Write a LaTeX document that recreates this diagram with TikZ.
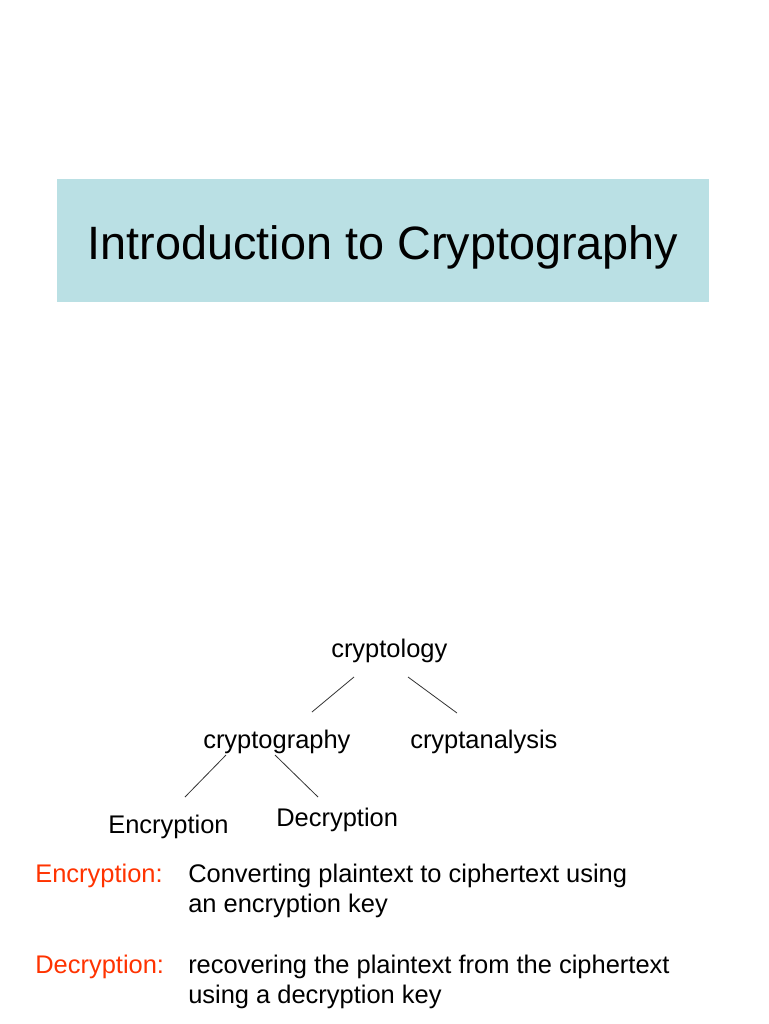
\documentclass[tikz,border=0pt]{standalone}
\usepackage{fontspec}
\setmainfont{Liberation Sans}
\definecolor{titlebg}{HTML}{BAE0E4}
\definecolor{termred}{HTML}{FF3300}
\begin{document}
\begin{tikzpicture}[x=0.75pt,y=-0.75pt,
  lbl/.style={anchor=base west,inner sep=0pt,font=\fontsize{19.1pt}{22.5pt}\selectfont},
  redlbl/.style={lbl,text=termred},
  branch/.style={draw=black!80,line width=0.6pt}]
\useasboundingbox (0,0) rectangle (768,1024);
\fill[white] (0,0) rectangle (768,1024);
% title
\node[fill=titlebg,minimum width=652*0.75pt,minimum height=123*0.75pt,inner sep=0pt,anchor=north west] (titlebox) at (57,179) {};
\node[anchor=base,inner sep=0pt,font=\fontsize{35.1pt}{40pt}\selectfont] (title) at (383,259) {Introduction to Cryptography};
% tree
\node[lbl] (cryptology) at (331,657) {cryptology};
\node[lbl] (cryptography) at (203,748) {cryptography};
\node[lbl] (cryptanalysis) at (410,748) {cryptanalysis};
\node[lbl] (encryption) at (108,833) {Encryption};
\node[lbl] (decryption) at (276,826) {Decryption};
\coordinate (l1a) at (354,677); \coordinate (l1b) at (312,712);
\coordinate (l2a) at (408,677); \coordinate (l2b) at (457,713);
\coordinate (l3a) at (226,755); \coordinate (l3b) at (185,797);
\coordinate (l4a) at (275,755); \coordinate (l4b) at (318,797);
\draw[branch] (l1a) -- (l1b);
\draw[branch] (l2a) -- (l2b);
\draw[branch] (l3a) -- (l3b);
\draw[branch] (l4a) -- (l4b);
% definitions
\node[redlbl] (encterm) at (35,882) {Encryption:};
\node[lbl] (encdef1) at (188,882) {Converting plaintext to ciphertext using};
\node[lbl] (encdef2) at (188,912) {an encryption key};
\node[redlbl] (decterm) at (35,973) {Decryption:};
\node[lbl] (decdef1) at (188,973) {recovering the plaintext from the ciphertext};
\node[lbl] (decdef2) at (188,1003) {using a decryption key};
\end{tikzpicture}
\end{document}
